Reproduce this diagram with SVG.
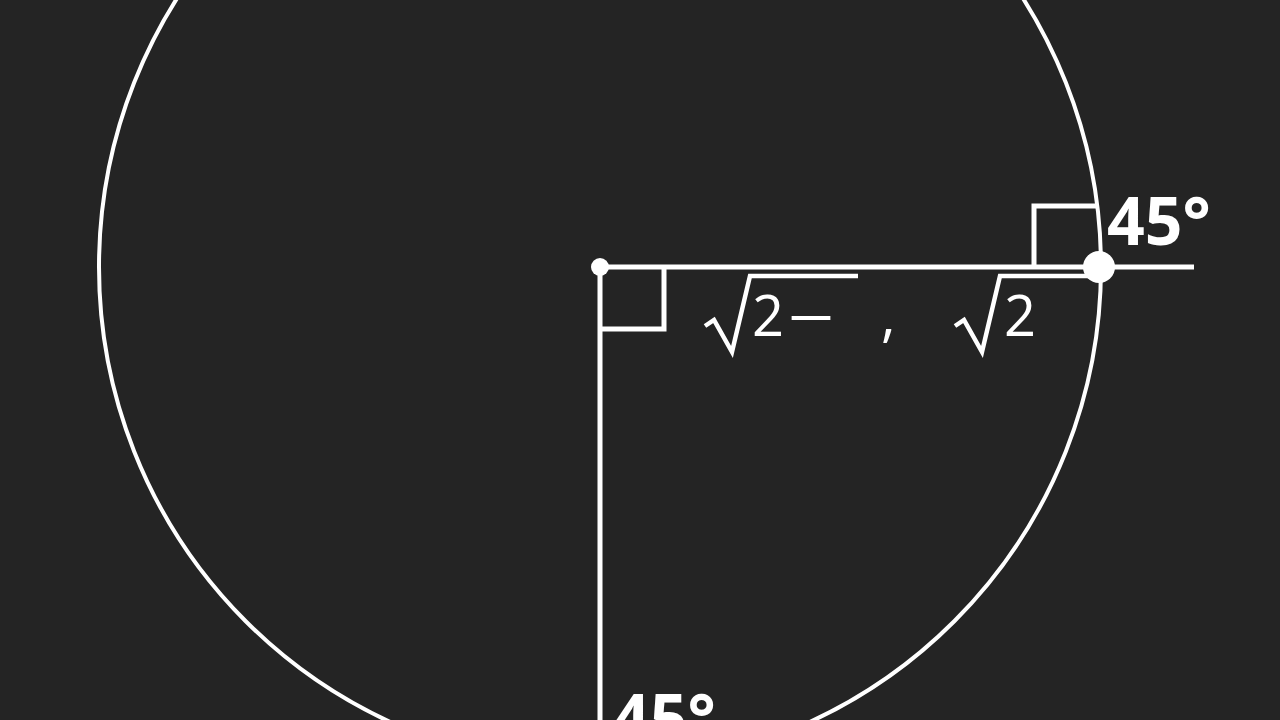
<svg xmlns="http://www.w3.org/2000/svg" width="1280" height="720" viewBox="0 0 1280 720">
<style>
.ln{fill:none;stroke:#ffffff;stroke-linecap:butt;stroke-linejoin:miter}
.lbl{font-family:"Open Sans","Noto Sans","DejaVu Sans",sans-serif;fill:#ffffff}
.deg{font-family:"Open Sans","Noto Sans","DejaVu Sans",sans-serif;font-weight:bold;font-size:66px;fill:#ffffff}
</style>
<rect width="1280" height="720" fill="#242424"/>
<g id="circle">
<circle class="ln" cx="600" cy="267" r="501" stroke-width="4"/>
</g>
<g id="connectors">
<line class="ln" x1="600" y1="267" x2="1194" y2="267" stroke-width="5"/>
<line class="ln" x1="600" y1="267" x2="600" y2="720" stroke-width="5"/>
<path class="ln" d="M664,267 V329 H600" stroke-width="5"/>
<path class="ln" d="M1034,267 V206 H1096" stroke-width="5"/>
</g>
<g id="origin">
<circle cx="600" cy="267" r="9" fill="#ffffff"/>
</g>
<g id="point">
<circle cx="1099" cy="267" r="16" fill="#ffffff"/>
</g>
<g id="coords">
<path class="ln" d="M705,326 L714,320 L732,352 L750,276 L858,276" stroke-width="4.5"/>
<text class="lbl" x="752" y="336" font-size="56">2</text>
<text class="lbl" x="790" y="333" font-size="56" textLength="42" lengthAdjust="spacingAndGlyphs">—</text>
<text class="lbl" x="881" y="336" font-size="56">,</text>
<path class="ln" d="M955,326 L964,320 L982,352 L1000,276 L1088,276" stroke-width="4.5"/>
<text class="lbl" x="1004" y="336" font-size="56">2</text>
</g>
<g id="angle-top">
<text class="deg" x="1107" y="245">45°</text>
</g>
<g id="angle-bottom">
<text class="deg" x="612" y="742">45°</text>
</g>
</svg>
